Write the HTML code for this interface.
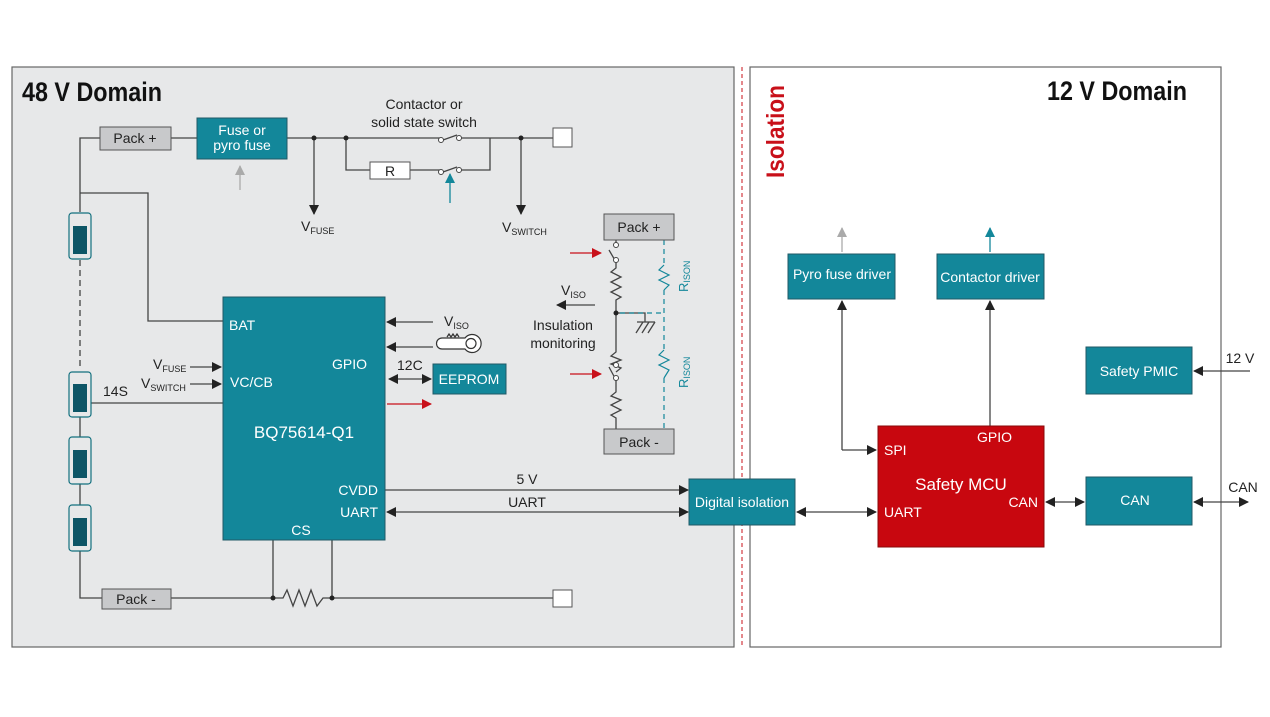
<!DOCTYPE html>
<html><head><meta charset="utf-8"><style>
html,body{margin:0;padding:0;background:#fff}
svg{display:block}
text{font-family:"Liberation Sans Narrow","Liberation Sans",sans-serif}
</style></head><body>
<svg width="1270" height="717" viewBox="0 0 1270 717" xmlns="http://www.w3.org/2000/svg">
<defs>
<marker id="a" viewBox="0 0 10 10" refX="9" refY="5" markerWidth="10" markerHeight="10" markerUnits="userSpaceOnUse" orient="auto-start-reverse"><path d="M0,0L10,5L0,10z" fill="#222"/></marker>
<marker id="r" viewBox="0 0 10 10" refX="9" refY="5" markerWidth="10" markerHeight="10" markerUnits="userSpaceOnUse" orient="auto"><path d="M0,0L10,5L0,10z" fill="#c8101a"/></marker>
<marker id="t" viewBox="0 0 10 10" refX="9" refY="5" markerWidth="10" markerHeight="10" markerUnits="userSpaceOnUse" orient="auto"><path d="M0,0L10,5L0,10z" fill="#13879a"/></marker>
<marker id="g" viewBox="0 0 10 10" refX="9" refY="5" markerWidth="10" markerHeight="10" markerUnits="userSpaceOnUse" orient="auto"><path d="M0,0L10,5L0,10z" fill="#aaa"/></marker>
</defs>
<rect x="12" y="67" width="722" height="580" fill="#e7e8e9" stroke="#666" stroke-width="1.2"/>
<rect x="750" y="67" width="471" height="580" fill="#fff" stroke="#666" stroke-width="1.2"/>
<line x1="742" y1="67" x2="742" y2="647" stroke="#c8101a" stroke-dasharray="4,3"/>
<text x="22" y="101" font-size="27" font-weight="bold" fill="#111" textLength="140" lengthAdjust="spacingAndGlyphs">48 V Domain</text>
<text x="1047" y="100" font-size="27" font-weight="bold" fill="#111" textLength="140" lengthAdjust="spacingAndGlyphs">12 V Domain</text>
<text transform="translate(784,178) rotate(-90)" font-size="25" font-weight="bold" fill="#c8101a" textLength="93" lengthAdjust="spacingAndGlyphs">Isolation</text>

<g stroke="#444" stroke-width="1.3" fill="none">
<path d="M100,138H80V212"/>
<path d="M80,193H148V321H223"/>
<path d="M171,138H197"/>
<path d="M287,138H440M460,138H553"/>
<path d="M346,138V170H370M410,170H440M460,170H490V138"/>
<path d="M314,138V214" marker-end="url(#a)"/>
<path d="M521,138V214" marker-end="url(#a)"/>
<path d="M443,140L457,135"/><path d="M443,172L457,167"/>
<path d="M80,260V370" stroke-dasharray="6,4"/>
<path d="M80,417V437M80,484V505M80,551V598H102"/>
<path d="M91,403H223"/>
<path d="M190,367H221" marker-end="url(#a)"/>
<path d="M190,384H221" marker-end="url(#a)"/>
<path d="M171,598H283L287,590L293,606L299,590L305,606L311,590L317,606L323,598H553"/>
<path d="M273,540V598M332,540V598"/>
<path d="M433,322H387" marker-end="url(#a)"/>
<path d="M433,347H387" marker-end="url(#a)"/>
<path d="M389,379H431" marker-end="url(#a)" marker-start="url(#a)"/>
<path d="M385,490H688" marker-end="url(#a)"/>
<path d="M387,512H688" marker-end="url(#a)" marker-start="url(#a)"/>
<path d="M595,305H557" marker-end="url(#a)"/>
<path d="M616,240V243M616,262V268L611,272L621,277L611,282L621,287L611,292L621,297L616,300V352L611,356L621,360L611,364L621,368L616,372M616,380V392L611,396L621,400L611,405L621,410L611,415L616,418V429"/>
<path d="M616,313H645V322M636,333L643,322M642,333L649,322M648,333L655,322M637,322H655"/>
<path d="M609,250L616,262M609,367L616,380"/>
<path d="M842,450V301" marker-end="url(#a)"/>
<path d="M842,450H876" marker-end="url(#a)"/>
<path d="M990,426V301" marker-end="url(#a)"/>
<path d="M797,512H876" marker-end="url(#a)" marker-start="url(#a)"/>
<path d="M1046,502H1084" marker-end="url(#a)" marker-start="url(#a)"/>
<path d="M1194,502H1248" marker-end="url(#a)" marker-start="url(#a)"/>
<path d="M1250,371H1194" marker-end="url(#a)"/>
</g>
<g fill="#fff" stroke="#444" stroke-width="1"><circle cx="441" cy="140" r="2.5"/><circle cx="459" cy="138" r="2.5"/><circle cx="441" cy="172" r="2.5"/><circle cx="459" cy="170" r="2.5"/>
<circle cx="616" cy="245" r="2.5"/><circle cx="616" cy="260" r="2.5"/><circle cx="616" cy="365" r="2.5"/><circle cx="616" cy="378" r="2.5"/></g>
<g fill="#222"><circle cx="314" cy="138" r="2.5"/><circle cx="346" cy="138" r="2.5"/><circle cx="521" cy="138" r="2.5"/><circle cx="273" cy="598" r="2.5"/><circle cx="332" cy="598" r="2.5"/><circle cx="616" cy="313" r="2.5"/></g>
<path d="M240,190V166" stroke="#aaa" stroke-width="1.3" marker-end="url(#g)"/>
<path d="M450,203V174" stroke="#13879a" stroke-width="1.3" marker-end="url(#t)"/>
<path d="M842,252V228" stroke="#aaa" stroke-width="1.3" marker-end="url(#g)"/>
<path d="M990,252V228" stroke="#13879a" stroke-width="1.3" marker-end="url(#t)"/>
<path d="M387,404H431" stroke="#c8101a" stroke-width="1.3" marker-end="url(#r)"/>
<path d="M570,253H601" stroke="#c8101a" stroke-width="1.3" marker-end="url(#r)"/>
<path d="M570,374H601" stroke="#c8101a" stroke-width="1.3" marker-end="url(#r)"/>
<g stroke="#13879a" stroke-width="1.2" fill="none"><path d="M664,240V265M664,290V350M664,378V429M620,313H664" stroke-dasharray="5,4"/>
<path d="M664,265L659,270L669,275L659,280L669,285L664,290M664,350L659,355L669,360L659,365L669,370L664,378"/></g>
<text transform="translate(688,292) rotate(-90)" font-size="13" fill="#13879a">R<tspan font-size="9" dy="2">ISON</tspan></text>
<text transform="translate(688,388) rotate(-90)" font-size="13" fill="#13879a">R<tspan font-size="9" dy="2">ISON</tspan></text>
<g stroke="#333" stroke-width="1.2" fill="#fff"><path d="M442,338H465A9,9 0 1 1 465,349H442A5.5,5.5 0 0 1 442,338Z"/><circle cx="471" cy="343.5" r="5"/><path d="M447,337L449,334L451,337L453,334L455,337L457,334L459,337" fill="none"/></g>
<g stroke="#555" stroke-width="1">
<rect x="100" y="127" width="71" height="23" fill="#c8c9cb"/>
<rect x="102" y="589" width="69" height="20" fill="#c8c9cb"/>
<rect x="604" y="214" width="70" height="26" fill="#c8c9cb"/>
<rect x="604" y="429" width="70" height="25" fill="#c8c9cb"/>
<rect x="553" y="128" width="19" height="19" fill="#fff"/>
<rect x="553" y="590" width="19" height="17" fill="#fff"/>
<rect x="370" y="162" width="40" height="17" fill="#fff"/>
</g>
<g fill="#13879a" stroke="#205a66" stroke-width="1">
<rect x="197" y="118" width="90" height="41"/>
<rect x="223" y="297" width="162" height="243"/>
<rect x="433" y="364" width="73" height="30"/>
<rect x="689" y="479" width="106" height="46"/>
<rect x="788" y="254" width="107" height="45"/>
<rect x="937" y="254" width="107" height="45"/>
<rect x="1086" y="347" width="106" height="47"/>
<rect x="1086" y="477" width="106" height="48"/>
</g>
<rect x="878" y="426" width="166" height="121" fill="#c8070f" stroke="#8a0a0a"/>
<g fill="#e7e8e9" stroke="#13707f" stroke-width="1.2">
<rect x="69" y="213" width="22" height="46" rx="3"/><rect x="69" y="372" width="22" height="45" rx="3"/><rect x="69" y="437" width="22" height="47" rx="3"/><rect x="69" y="505" width="22" height="46" rx="3"/>
</g>
<g fill="#0d5566"><rect x="73" y="226" width="14" height="28"/><rect x="73" y="384" width="14" height="28"/><rect x="73" y="450" width="14" height="28"/><rect x="73" y="518" width="14" height="28"/></g>
<g font-size="14" fill="#222">
<text x="135" y="143" text-anchor="middle">Pack +</text>
<text x="136" y="604" text-anchor="middle">Pack -</text>
<text x="639" y="232" text-anchor="middle">Pack +</text>
<text x="639" y="447" text-anchor="middle">Pack -</text>
<text x="390" y="176" text-anchor="middle">R</text>
<text x="424" y="109" text-anchor="middle">Contactor or</text>
<text x="424" y="127" text-anchor="middle">solid state switch</text>
<text x="301" y="231">V<tspan font-size="9" dy="3">FUSE</tspan></text>
<text x="502" y="232">V<tspan font-size="9" dy="3">SWITCH</tspan></text>
<text x="103" y="396">14S</text>
<text x="153" y="369">V<tspan font-size="9" dy="3">FUSE</tspan></text>
<text x="141" y="388">V<tspan font-size="9" dy="3">SWITCH</tspan></text>
<text x="444" y="326">V<tspan font-size="9" dy="3">ISO</tspan></text>
<text x="397" y="370">12C</text>
<text x="527" y="484" text-anchor="middle">5 V</text>
<text x="527" y="507" text-anchor="middle">UART</text>
<text x="561" y="295">V<tspan font-size="9" dy="3">ISO</tspan></text>
<text x="563" y="330" text-anchor="middle">Insulation</text>
<text x="563" y="348" text-anchor="middle">monitoring</text>
<text x="1240" y="363" text-anchor="middle">12 V</text>
<text x="1243" y="492" text-anchor="middle">CAN</text>
</g>
<g font-size="14" fill="#fff">
<text x="242" y="135" text-anchor="middle">Fuse or</text>
<text x="242" y="150" text-anchor="middle">pyro fuse</text>
<text x="229" y="330">BAT</text>
<text x="230" y="387">VC/CB</text>
<text x="367" y="369" text-anchor="end">GPIO</text>
<text x="304" y="438" text-anchor="middle" font-size="17">BQ75614-Q1</text>
<text x="378" y="495" text-anchor="end">CVDD</text>
<text x="378" y="517" text-anchor="end">UART</text>
<text x="301" y="535" text-anchor="middle">CS</text>
<text x="469" y="384" text-anchor="middle">EEPROM</text>
<text x="742" y="507" text-anchor="middle">Digital isolation</text>
<text x="842" y="279" text-anchor="middle">Pyro fuse driver</text>
<text x="990" y="282" text-anchor="middle">Contactor driver</text>
<text x="1139" y="376" text-anchor="middle">Safety PMIC</text>
<text x="1135" y="505" text-anchor="middle">CAN</text>
<text x="884" y="455">SPI</text>
<text x="977" y="442">GPIO</text>
<text x="884" y="517">UART</text>
<text x="1038" y="507" text-anchor="end">CAN</text>
<text x="961" y="490" text-anchor="middle" font-size="17">Safety MCU</text>
</g>
</svg>
</body></html>
